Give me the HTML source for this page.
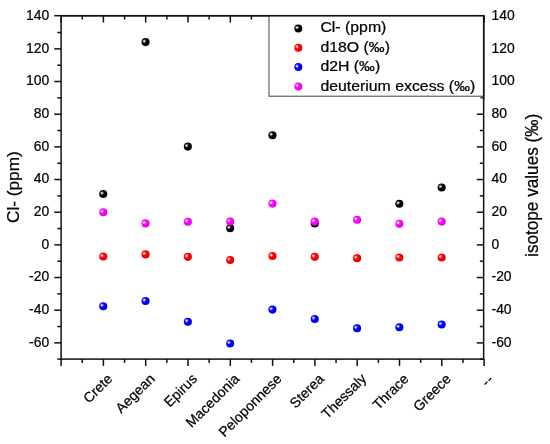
<!DOCTYPE html><html><head><meta charset="utf-8"><title>chart</title>
<style>html,body{margin:0;padding:0;background:#fff}svg{display:block}text{font-family:"Liberation Sans",sans-serif;fill:#000;stroke:#000;stroke-width:0.22px}</style></head><body>
<svg width="550" height="444" viewBox="0 0 550 444">
<defs>
<radialGradient id="gk" cx="0.34" cy="0.38" r="0.62" fx="0.34" fy="0.38"><stop offset="0" stop-color="#dcdcdc"/><stop offset="0.10" stop-color="#dcdcdc"/><stop offset="0.42" stop-color="#000"/><stop offset="0.8" stop-color="#000"/><stop offset="1" stop-color="#000"/></radialGradient>
<radialGradient id="gr" cx="0.34" cy="0.38" r="0.62" fx="0.34" fy="0.38"><stop offset="0" stop-color="#ffd8d8"/><stop offset="0.10" stop-color="#ffd8d8"/><stop offset="0.42" stop-color="#ff0000"/><stop offset="0.8" stop-color="#ff0000"/><stop offset="1" stop-color="#d00000"/></radialGradient>
<radialGradient id="gb" cx="0.34" cy="0.38" r="0.62" fx="0.34" fy="0.38"><stop offset="0" stop-color="#d8d8ff"/><stop offset="0.10" stop-color="#d8d8ff"/><stop offset="0.42" stop-color="#0000ff"/><stop offset="0.8" stop-color="#0000ff"/><stop offset="1" stop-color="#0000c8"/></radialGradient>
<radialGradient id="gm" cx="0.34" cy="0.38" r="0.62" fx="0.34" fy="0.38"><stop offset="0" stop-color="#ffe0ff"/><stop offset="0.10" stop-color="#ffe0ff"/><stop offset="0.42" stop-color="#ff00ff"/><stop offset="0.8" stop-color="#ff00ff"/><stop offset="1" stop-color="#d800d8"/></radialGradient>
</defs>
<rect width="550" height="444" fill="#fff"/>
<g stroke="#111" stroke-width="1.5" fill="none" stroke-linecap="butt">
<rect x="61.1" y="15.7" width="422.55" height="343.40"/>
<line x1="54.30" y1="15.70" x2="61.10" y2="15.70"/>
<line x1="476.85" y1="15.70" x2="483.65" y2="15.70"/>
<line x1="57.30" y1="32.53" x2="61.10" y2="32.53"/>
<line x1="479.85" y1="32.53" x2="483.65" y2="32.53"/>
<line x1="54.30" y1="48.87" x2="61.10" y2="48.87"/>
<line x1="476.85" y1="48.87" x2="483.65" y2="48.87"/>
<line x1="57.30" y1="65.20" x2="61.10" y2="65.20"/>
<line x1="479.85" y1="65.20" x2="483.65" y2="65.20"/>
<line x1="54.30" y1="81.53" x2="61.10" y2="81.53"/>
<line x1="476.85" y1="81.53" x2="483.65" y2="81.53"/>
<line x1="57.30" y1="97.87" x2="61.10" y2="97.87"/>
<line x1="54.30" y1="114.20" x2="61.10" y2="114.20"/>
<line x1="476.85" y1="114.20" x2="483.65" y2="114.20"/>
<line x1="57.30" y1="130.53" x2="61.10" y2="130.53"/>
<line x1="479.85" y1="130.53" x2="483.65" y2="130.53"/>
<line x1="54.30" y1="146.87" x2="61.10" y2="146.87"/>
<line x1="476.85" y1="146.87" x2="483.65" y2="146.87"/>
<line x1="57.30" y1="163.20" x2="61.10" y2="163.20"/>
<line x1="479.85" y1="163.20" x2="483.65" y2="163.20"/>
<line x1="54.30" y1="179.53" x2="61.10" y2="179.53"/>
<line x1="476.85" y1="179.53" x2="483.65" y2="179.53"/>
<line x1="57.30" y1="195.87" x2="61.10" y2="195.87"/>
<line x1="479.85" y1="195.87" x2="483.65" y2="195.87"/>
<line x1="54.30" y1="212.20" x2="61.10" y2="212.20"/>
<line x1="476.85" y1="212.20" x2="483.65" y2="212.20"/>
<line x1="57.30" y1="228.53" x2="61.10" y2="228.53"/>
<line x1="479.85" y1="228.53" x2="483.65" y2="228.53"/>
<line x1="54.30" y1="244.87" x2="61.10" y2="244.87"/>
<line x1="476.85" y1="244.87" x2="483.65" y2="244.87"/>
<line x1="57.30" y1="261.20" x2="61.10" y2="261.20"/>
<line x1="479.85" y1="261.20" x2="483.65" y2="261.20"/>
<line x1="54.30" y1="277.53" x2="61.10" y2="277.53"/>
<line x1="476.85" y1="277.53" x2="483.65" y2="277.53"/>
<line x1="57.30" y1="293.87" x2="61.10" y2="293.87"/>
<line x1="479.85" y1="293.87" x2="483.65" y2="293.87"/>
<line x1="54.30" y1="310.20" x2="61.10" y2="310.20"/>
<line x1="476.85" y1="310.20" x2="483.65" y2="310.20"/>
<line x1="57.30" y1="326.53" x2="61.10" y2="326.53"/>
<line x1="479.85" y1="326.53" x2="483.65" y2="326.53"/>
<line x1="54.30" y1="342.87" x2="61.10" y2="342.87"/>
<line x1="476.85" y1="342.87" x2="483.65" y2="342.87"/>
<line x1="57.30" y1="359.10" x2="61.10" y2="359.10"/>
<line x1="479.85" y1="359.10" x2="483.65" y2="359.10"/>
<line x1="61.10" y1="359.10" x2="61.10" y2="365.90"/>
<line x1="61.10" y1="15.70" x2="61.10" y2="22.50"/>
<line x1="82.25" y1="359.10" x2="82.25" y2="362.90"/>
<line x1="82.25" y1="15.70" x2="82.25" y2="19.50"/>
<line x1="103.40" y1="359.10" x2="103.40" y2="365.90"/>
<line x1="103.40" y1="15.70" x2="103.40" y2="22.50"/>
<line x1="124.55" y1="359.10" x2="124.55" y2="362.90"/>
<line x1="124.55" y1="15.70" x2="124.55" y2="19.50"/>
<line x1="145.70" y1="359.10" x2="145.70" y2="365.90"/>
<line x1="145.70" y1="15.70" x2="145.70" y2="22.50"/>
<line x1="166.85" y1="359.10" x2="166.85" y2="362.90"/>
<line x1="166.85" y1="15.70" x2="166.85" y2="19.50"/>
<line x1="188.00" y1="359.10" x2="188.00" y2="365.90"/>
<line x1="188.00" y1="15.70" x2="188.00" y2="22.50"/>
<line x1="209.15" y1="359.10" x2="209.15" y2="362.90"/>
<line x1="209.15" y1="15.70" x2="209.15" y2="19.50"/>
<line x1="230.30" y1="359.10" x2="230.30" y2="365.90"/>
<line x1="230.30" y1="15.70" x2="230.30" y2="22.50"/>
<line x1="251.45" y1="359.10" x2="251.45" y2="362.90"/>
<line x1="251.45" y1="15.70" x2="251.45" y2="19.50"/>
<line x1="272.60" y1="359.10" x2="272.60" y2="365.90"/>
<line x1="272.60" y1="15.70" x2="272.60" y2="22.50"/>
<line x1="293.75" y1="359.10" x2="293.75" y2="362.90"/>
<line x1="293.75" y1="15.70" x2="293.75" y2="19.50"/>
<line x1="314.90" y1="359.10" x2="314.90" y2="365.90"/>
<line x1="314.90" y1="15.70" x2="314.90" y2="22.50"/>
<line x1="336.05" y1="359.10" x2="336.05" y2="362.90"/>
<line x1="336.05" y1="15.70" x2="336.05" y2="19.50"/>
<line x1="357.20" y1="359.10" x2="357.20" y2="365.90"/>
<line x1="357.20" y1="15.70" x2="357.20" y2="22.50"/>
<line x1="378.35" y1="359.10" x2="378.35" y2="362.90"/>
<line x1="378.35" y1="15.70" x2="378.35" y2="19.50"/>
<line x1="399.50" y1="359.10" x2="399.50" y2="365.90"/>
<line x1="399.50" y1="15.70" x2="399.50" y2="22.50"/>
<line x1="420.65" y1="359.10" x2="420.65" y2="362.90"/>
<line x1="420.65" y1="15.70" x2="420.65" y2="19.50"/>
<line x1="441.80" y1="359.10" x2="441.80" y2="365.90"/>
<line x1="441.80" y1="15.70" x2="441.80" y2="22.50"/>
<line x1="462.95" y1="359.10" x2="462.95" y2="362.90"/>
<line x1="462.95" y1="15.70" x2="462.95" y2="19.50"/>
<line x1="484.10" y1="359.10" x2="484.10" y2="365.90"/>
<line x1="484.10" y1="15.70" x2="484.10" y2="22.50"/>
</g>
<g font-size="13.9">
<text x="49.2" y="20.00" text-anchor="end">140</text>
<text x="491.5" y="20.00" text-anchor="start">140</text>
<text x="49.2" y="52.67" text-anchor="end">120</text>
<text x="491.5" y="52.67" text-anchor="start">120</text>
<text x="49.2" y="85.33" text-anchor="end">100</text>
<text x="491.5" y="85.33" text-anchor="start">100</text>
<text x="49.2" y="118.00" text-anchor="end">80</text>
<text x="491.5" y="118.00" text-anchor="start">80</text>
<text x="49.2" y="150.67" text-anchor="end">60</text>
<text x="491.5" y="150.67" text-anchor="start">60</text>
<text x="49.2" y="183.33" text-anchor="end">40</text>
<text x="491.5" y="183.33" text-anchor="start">40</text>
<text x="49.2" y="216.00" text-anchor="end">20</text>
<text x="491.5" y="216.00" text-anchor="start">20</text>
<text x="49.2" y="248.67" text-anchor="end">0</text>
<text x="491.5" y="248.67" text-anchor="start">0</text>
<text x="49.2" y="281.33" text-anchor="end">-20</text>
<text x="491.5" y="281.33" text-anchor="start">-20</text>
<text x="49.2" y="314.00" text-anchor="end">-40</text>
<text x="491.5" y="314.00" text-anchor="start">-40</text>
<text x="49.2" y="346.67" text-anchor="end">-60</text>
<text x="491.5" y="346.67" text-anchor="start">-60</text>
<text transform="translate(113.40,379.60) rotate(-45)" text-anchor="end" font-size="14.1">Crete</text>
<text transform="translate(155.70,379.60) rotate(-45)" text-anchor="end" font-size="14.1">Aegean</text>
<text transform="translate(198.00,379.60) rotate(-45)" text-anchor="end" font-size="14.1">Epirus</text>
<text transform="translate(240.30,379.60) rotate(-45)" text-anchor="end" font-size="14.1">Macedonia</text>
<text transform="translate(282.60,379.60) rotate(-45)" text-anchor="end" font-size="14.1">Peloponnese</text>
<text transform="translate(324.90,379.60) rotate(-45)" text-anchor="end" font-size="14.1">Sterea</text>
<text transform="translate(367.20,379.60) rotate(-45)" text-anchor="end" font-size="14.1">Thessaly</text>
<text transform="translate(409.50,379.60) rotate(-45)" text-anchor="end" font-size="14.1">Thrace</text>
<text transform="translate(451.80,379.60) rotate(-45)" text-anchor="end" font-size="14.1">Greece</text>
<text transform="translate(494.70,379.90) rotate(-45)" text-anchor="end" font-size="14.1" letter-spacing="0.7">--</text>
</g>
<g>
<text transform="translate(18.6,187.1) rotate(-90) scale(1.014,1)" text-anchor="middle" font-size="17">Cl- (ppm)</text>
<text transform="translate(538.4,185.4) rotate(-90) scale(1,1.045)" text-anchor="middle" font-size="17.16">isotope values (‰)</text>
</g>
<circle cx="103.25" cy="193.98" r="4.05" fill="url(#gk)"/>
<circle cx="145.55" cy="42.08" r="4.05" fill="url(#gk)"/>
<circle cx="187.85" cy="146.62" r="4.05" fill="url(#gk)"/>
<circle cx="230.15" cy="228.28" r="4.05" fill="url(#gk)"/>
<circle cx="272.45" cy="135.18" r="4.05" fill="url(#gk)"/>
<circle cx="314.75" cy="223.38" r="4.05" fill="url(#gk)"/>
<circle cx="399.35" cy="203.78" r="4.05" fill="url(#gk)"/>
<circle cx="441.65" cy="187.45" r="4.05" fill="url(#gk)"/>
<circle cx="103.25" cy="256.54" r="4.05" fill="url(#gr)"/>
<circle cx="145.55" cy="254.42" r="4.05" fill="url(#gr)"/>
<circle cx="187.85" cy="256.87" r="4.05" fill="url(#gr)"/>
<circle cx="230.15" cy="259.97" r="4.05" fill="url(#gr)"/>
<circle cx="272.45" cy="256.05" r="4.05" fill="url(#gr)"/>
<circle cx="314.75" cy="256.87" r="4.05" fill="url(#gr)"/>
<circle cx="357.05" cy="258.17" r="4.05" fill="url(#gr)"/>
<circle cx="399.35" cy="257.52" r="4.05" fill="url(#gr)"/>
<circle cx="441.65" cy="257.52" r="4.05" fill="url(#gr)"/>
<circle cx="103.25" cy="306.19" r="4.05" fill="url(#gb)"/>
<circle cx="145.55" cy="300.97" r="4.05" fill="url(#gb)"/>
<circle cx="187.85" cy="321.71" r="4.05" fill="url(#gb)"/>
<circle cx="230.15" cy="343.43" r="4.05" fill="url(#gb)"/>
<circle cx="272.45" cy="309.62" r="4.05" fill="url(#gb)"/>
<circle cx="314.75" cy="318.93" r="4.05" fill="url(#gb)"/>
<circle cx="357.05" cy="328.24" r="4.05" fill="url(#gb)"/>
<circle cx="399.35" cy="327.26" r="4.05" fill="url(#gb)"/>
<circle cx="441.65" cy="324.49" r="4.05" fill="url(#gb)"/>
<circle cx="103.25" cy="212.28" r="4.05" fill="url(#gm)"/>
<circle cx="145.55" cy="223.38" r="4.05" fill="url(#gm)"/>
<circle cx="187.85" cy="221.75" r="4.05" fill="url(#gm)"/>
<circle cx="230.15" cy="221.59" r="4.05" fill="url(#gm)"/>
<circle cx="272.45" cy="203.62" r="4.05" fill="url(#gm)"/>
<circle cx="314.75" cy="221.59" r="4.05" fill="url(#gm)"/>
<circle cx="357.05" cy="219.79" r="4.05" fill="url(#gm)"/>
<circle cx="399.35" cy="223.71" r="4.05" fill="url(#gm)"/>
<circle cx="441.65" cy="221.59" r="4.05" fill="url(#gm)"/>
<rect x="269" y="15.7" width="214.65" height="80.50" fill="#fff" stroke="#444" stroke-width="1"/>
<line x1="483.65" y1="15.7" x2="483.65" y2="100" stroke="#111" stroke-width="1.5"/>
<line x1="61.1" y1="15.7" x2="484.45" y2="15.7" stroke="#111" stroke-width="1.5"/>
<rect x="480.3" y="96.7" width="3" height="1.9" fill="#444"/>
<g font-size="14.1">
<circle cx="298.30" cy="28.50" r="4.0" fill="url(#gk)"/>
<text transform="translate(320.4,32.20) scale(1.124,1)">Cl- (ppm)</text>
<circle cx="298.30" cy="47.70" r="4.0" fill="url(#gr)"/>
<text transform="translate(320.4,52.20) scale(1.124,1)">d18O (‰)</text>
<circle cx="298.30" cy="67.10" r="4.0" fill="url(#gb)"/>
<text transform="translate(320.4,71.20) scale(1.124,1)">d2H (‰)</text>
<circle cx="298.30" cy="86.50" r="4.0" fill="url(#gm)"/>
<text transform="translate(320.4,90.60) scale(1.124,1)">deuterium excess (‰)</text>
</g>
</svg></body></html>
